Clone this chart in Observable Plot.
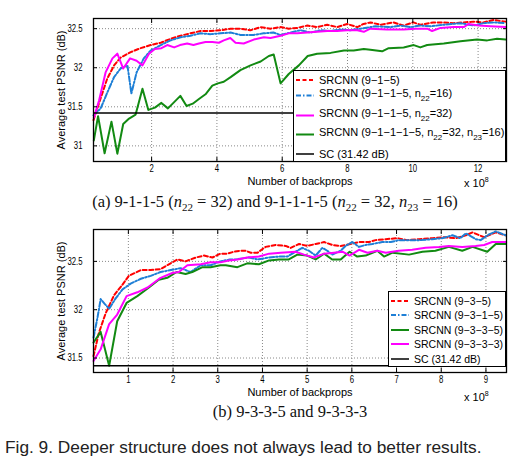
<!DOCTYPE html>
<html>
<head>
<meta charset="utf-8">
<script src="https://cdn.jsdelivr.net/npm/d3@7"></script>
<script src="https://cdn.jsdelivr.net/npm/@observablehq/plot@0.6"></script>
<style>
  body { margin: 0; background: #fff; font-family: "Liberation Sans", Arial, sans-serif; }
  #fig { position: relative; width: 518px; height: 460px; overflow: hidden; }
  .chart { position: absolute; left: 0; }
  .cap { position: absolute; font-family: "Liberation Serif", "Times New Roman", serif; font-size: 16.5px; white-space: nowrap; transform: translateX(-50%); color: #111; }
  .cap sub { font-size: 11px; }
  .exp { position: absolute; font-size: 11px; white-space: nowrap; }
  .exp sup { font-size: 7px; }
  .leg { position: absolute; background: #fff; border: 1.3px solid #000; font-size: 11px; box-sizing: border-box; }
  .row { position: absolute; left: 1px; display: flex; align-items: center; white-space: nowrap; transform: translateY(-50%); }
  .row svg { margin-right: 4px; }
  .row sub { font-size: 8px; }
  #figcap { position: absolute; left: 5px; top: 437px; font-size: 17.3px; color: #222; white-space: nowrap; }
</style>
</head>
<body>
<div id="fig">
  <div id="chartA" class="chart" style="top:0"></div>
  <div class="exp" style="left:464px;top:176px">x 10<sup>8</sup></div>
  <div class="cap" style="left:275px;top:192px">(a) 9-1-1-5 (<i>n</i><sub>22</sub> = 32) and 9-1-1-1-5 (<i>n</i><sub>22</sub> = 32, <i>n</i><sub>23</sub> = 16)</div>
  <div id="chartB" class="chart" style="top:211px"></div>
  <div class="exp" style="left:464px;top:390px">x 10<sup>8</sup></div>
  <div class="cap" style="left:290px;top:402px">(b) 9-3-3-5 and 9-3-3-3</div>
  <div id="figcap">Fig. 9. Deeper structure does not always lead to better results.</div>
</div>
<script>
// values, x in units of 10^8 backprops, y in dB
const scPSNR = 31.42

// (a) 9-1-1-5 and 9-1-1-1-5
const a_915 = [[0.22,31.33],[0.44,31.61],[0.64,31.86],[0.85,32.03],[1.05,32.13],[1.36,32.2],[1.66,32.25],[1.97,32.29],[2.28,32.32],[2.58,32.37],[2.89,32.41],[3.19,32.44],[3.5,32.47],[3.81,32.47],[4.11,32.48],[4.42,32.5],[4.72,32.5],[5.03,32.48],[5.34,32.52],[5.64,32.5],[5.95,32.52],[6.2,32.5],[6.46,32.51],[6.77,32.54],[7.07,32.52],[7.38,32.55],[7.68,32.52],[7.99,32.56],[8.3,32.52],[8.49,32.56],[8.7,32.58],[9.01,32.55],[9.41,32.58],[9.71,32.54],[10.02,32.58],[10.23,32.55],[10.63,32.58],[10.94,32.58],[11.24,32.57],[11.55,32.58],[11.86,32.59],[12.16,32.58],[12.47,32.61],[12.84,32.59]]
const a_9115_16 = [[0.22,31.39],[0.44,31.48],[0.64,31.68],[0.85,31.88],[1.05,31.99],[1.26,32.03],[1.38,31.67],[1.54,31.94],[1.76,32.12],[1.97,32.22],[2.28,32.29],[2.58,32.35],[2.89,32.39],[3.19,32.41],[3.5,32.44],[3.81,32.43],[4.11,32.44],[4.42,32.45],[4.72,32.42],[5.12,32.42],[5.43,32.44],[5.73,32.45],[5.95,32.42],[6.25,32.45],[6.56,32.48],[6.87,32.45],[7.17,32.48],[7.48,32.47],[7.79,32.49],[8.09,32.48],[8.4,32.5],[8.7,32.52],[8.86,32.53],[9.32,32.52],[9.62,32.54],[9.93,32.52],[10.23,32.54],[10.54,32.53],[10.94,32.55],[11.46,32.57],[11.86,32.54],[12.16,32.57],[12.47,32.58],[12.84,32.57]]
const a_9115_32 = [[0.23,31.36],[0.39,31.58],[0.59,31.94],[0.8,32.12],[0.95,32.18],[1.13,31.99],[1.34,32.12],[1.54,32.09],[1.72,32.03],[1.92,32.18],[2.1,32.24],[2.3,32.25],[2.48,32.29],[2.69,32.26],[2.87,32.29],[3.09,32.31],[3.28,32.29],[3.45,32.31],[3.65,32.33],[3.86,32.33],[4.06,32.32],[4.21,32.35],[4.41,32.38],[4.57,32.32],[4.82,32.31],[5.13,32.36],[5.44,32.39],[5.64,32.38],[5.95,32.41],[6.2,32.44],[6.46,32.44],[6.77,32.45],[7.07,32.46],[7.38,32.47],[7.68,32.47],[7.99,32.48],[8.3,32.48],[8.5,32.46],[8.7,32.5],[9.21,32.49],[9.72,32.49],[10.08,32.5],[10.44,32.5],[10.59,32.47],[10.85,32.51],[11.25,32.52],[11.56,32.52],[11.71,32.56],[12.02,32.54],[12.38,32.53],[12.84,32.52]]
const a_91115 = [[0.23,31.07],[0.36,31.38],[0.56,30.905],[0.77,31.31],[0.95,30.9],[1.13,31.28],[1.31,31.35],[1.51,31.4],[1.72,31.73],[1.9,31.46],[2.1,31.49],[2.3,31.55],[2.5,31.48],[2.88,31.64],[3.07,31.51],[3.26,31.54],[3.45,31.6],[3.65,31.66],[3.86,31.77],[4.03,31.8],[4.21,31.82],[4.42,31.88],[4.72,31.97],[5.03,32.03],[5.34,32.08],[5.59,32.15],[5.74,32.17],[5.95,31.8],[6.2,31.92],[6.51,32.03],[6.78,32.15],[7.07,32.18],[7.48,32.19],[7.89,32.22],[8.19,32.22],[8.5,32.24],[8.7,32.23],[9.06,32.21],[9.26,32.25],[9.72,32.26],[10.03,32.29],[10.23,32.26],[10.44,32.29],[10.95,32.31],[11.46,32.34],[11.97,32.36],[12.28,32.35],[12.58,32.37],[12.84,32.36]]
const aXTicks = [2, 4, 6, 8, 10, 12]
const aYTicks = [31, 31.5, 32, 32.5]

// (b) 9-3-3-5 and 9-3-3-3
const b_935 = [[0.22,31.52],[0.34,31.76],[0.49,31.96],[0.68,32.15],[0.87,32.26],[1.01,32.35],[1.28,32.41],[1.5,32.41],[1.72,32.42],[1.98,32.49],[2.1,32.52],[2.28,32.5],[2.51,32.54],[2.69,32.56],[2.88,32.54],[3.06,32.58],[3.22,32.58],[3.36,32.6],[3.51,32.61],[3.62,32.61],[3.74,32.59],[3.89,32.59],[4.07,32.65],[4.3,32.67],[4.52,32.66],[4.63,32.64],[4.82,32.68],[5,32.66],[5.19,32.68],[5.38,32.7],[5.56,32.67],[5.75,32.66],[5.97,32.68],[6.16,32.7],[6.38,32.7],[6.53,32.72],[6.76,32.73],[7.02,32.74],[7.24,32.72],[7.5,32.73],[7.8,32.74],[8.06,32.75],[8.32,32.74],[8.55,32.77],[8.7,32.8],[8.96,32.75],[9.22,32.8],[9.44,32.77]]
const b_9315 = [[0.22,31.71],[0.31,31.92],[0.38,32.11],[0.47,32.06],[0.57,32.01],[0.72,32.12],[0.87,32.21],[1.05,32.27],[1.28,32.32],[1.5,32.35],[1.72,32.39],[1.95,32.41],[2.17,32.43],[2.39,32.39],[2.62,32.46],[2.84,32.46],[3.06,32.5],[3.27,32.52],[3.4,32.52],[3.7,32.54],[3.89,32.52],[4.15,32.54],[4.37,32.55],[4.56,32.55],[4.74,32.6],[4.89,32.64],[5.04,32.61],[5.19,32.56],[5.34,32.64],[5.45,32.61],[5.56,32.57],[5.75,32.61],[5.86,32.66],[6.01,32.7],[6.16,32.65],[6.31,32.67],[6.46,32.68],[6.68,32.7],[6.87,32.7],[7.05,32.72],[7.28,32.72],[7.54,32.72],[7.8,32.73],[8.02,32.74],[8.25,32.77],[8.43,32.74],[8.55,32.79],[8.77,32.73],[8.88,32.72],[9.07,32.78],[9.22,32.81],[9.44,32.77]]
const b_9335 = [[0.22,31.66],[0.38,31.77],[0.57,31.42],[0.75,31.88],[0.96,32.07],[1.2,32.14],[1.46,32.23],[1.68,32.31],[1.87,32.33],[2.08,32.39],[2.28,32.37],[2.43,32.39],[2.66,32.44],[2.84,32.44],[3.06,32.46],[3.18,32.46],[3.44,32.44],[3.66,32.48],[3.92,32.47],[4.15,32.51],[4.37,32.52],[4.59,32.52],[4.78,32.57],[5,32.56],[5.19,32.52],[5.38,32.58],[5.56,32.52],[5.75,32.52],[5.95,32.6],[6.12,32.55],[6.31,32.56],[6.57,32.61],[6.72,32.55],[6.91,32.59],[7.28,32.57],[7.58,32.6],[7.87,32.61],[8.17,32.65],[8.47,32.61],[8.7,32.65],[9.03,32.6],[9.22,32.68],[9.44,32.68]]
const b_9333 = [[0.22,31.47],[0.38,31.59],[0.57,31.85],[0.75,31.95],[0.96,32.14],[1.2,32.18],[1.43,32.23],[1.72,32.33],[1.98,32.38],[2.13,32.39],[2.32,32.46],[2.62,32.47],[2.84,32.49],[3.06,32.49],[3.25,32.51],[3.44,32.52],[3.66,32.54],[3.92,32.55],[4.15,32.58],[4.41,32.59],[4.74,32.6],[4.93,32.57],[5.15,32.54],[5.38,32.58],[5.6,32.59],[5.79,32.6],[5.95,32.56],[6.16,32.62],[6.35,32.59],[6.57,32.61],[6.76,32.59],[7.05,32.61],[7.35,32.62],[7.65,32.64],[7.95,32.65],[8.17,32.66],[8.47,32.65],[8.77,32.66],[8.96,32.67],[9.14,32.7],[9.44,32.7]]
const bXTicks = [1, 2, 3, 4, 5, 6, 7, 8, 9]
const bYTicks = [31.5, 32, 32.5]

const red = {stroke: "#ff0000", strokeWidth: 2, strokeDasharray: "4,2.5"}
const blue = {stroke: "#1e7fd6", strokeWidth: 2, strokeDasharray: "5,2,1.5,2"}
const magenta = {stroke: "#ff00ff", strokeWidth: 2}
const green = {stroke: "#128a12", strokeWidth: 2}
const black = {stroke: "#000", strokeWidth: 1.5}

function panel(series, xDomain, yDomain, xTicks, yTicks) {
  const chart = Plot.plot({
    width: 518,
    height: 195,
    marginLeft: 93,
    marginRight: 12,
    marginTop: 18,
    marginBottom: 34,
    style: {fontSize: "11px", fontFamily: "Liberation Sans, Arial, sans-serif", color: "#000", background: "transparent", overflow: "visible"},
    x: {domain: xDomain},
    y: {domain: yDomain},
    marks: [
      Plot.gridX(xTicks, {stroke: "#888", strokeOpacity: 1, strokeDasharray: "1,2"}),
      Plot.gridY(yTicks, {stroke: "#888", strokeOpacity: 1, strokeDasharray: "1,2"}),
      ...series.map(([d, s]) => Plot.line(d, {x: "0", y: "1", ...s, strokeLinejoin: "round"})),
      Plot.ruleY([scPSNR], black),
      Plot.axisX(xTicks, {tickSize: -4, tickPadding: 7, fontSize: 10.5, tickFormat: d => String(d), label: null}),
      Plot.axisX({label: "Number of backprops", labelAnchor: "center", labelOffset: 23, labelArrow: "none", tickSize: 0, ticks: [], fontSize: 11}),
      Plot.axisX(xTicks, {anchor: "top", tickSize: -4, tickFormat: () => "", label: null}),
      Plot.axisY(yTicks, {tickSize: -4, tickPadding: 15, fontSize: 10.5, tickFormat: d => String(d), label: null}),
      Plot.axisY({label: "Average test PSNR (dB)", labelAnchor: "center", labelOffset: 36, labelArrow: "none", tickSize: 0, ticks: [], fontSize: 11}),
      Plot.axisY(yTicks, {anchor: "right", tickSize: -4, tickFormat: () => "", label: null}),
      Plot.frame({stroke: "#000", strokeWidth: 1.3})
    ]
  })
  // the tick numbers in the original are set in a narrow face: squeeze them about their anchor
  d3.select(chart).selectAll('g[aria-label$="tick label"] text').each(function () {
    const t = this.getAttribute("transform")
    if (t) this.setAttribute("transform", t + " scale(0.74,1)")
    else this.style.letterSpacing = "-0.8px"
  })
  return chart
}

function legend(parent, box, size, rows) {
  const el = document.createElement("div")
  el.className = "leg"
  Object.assign(el.style, {left: box[0] + "px", top: box[1] + "px", width: box[2] + "px", height: box[3] + "px", fontSize: size + "px"})
  rows.forEach(([label, s, cy]) => {
    const r = document.createElement("div")
    r.className = "row"
    r.style.top = cy + "px"
    const dash = s.strokeDasharray ? `stroke-dasharray="${s.strokeDasharray}"` : ""
    r.innerHTML = `<svg width="20" height="6"><line x1="1" x2="19" y1="3" y2="3" stroke="${s.stroke}" stroke-width="${s.strokeWidth}" ${dash}/></svg><span>${label}</span>`
    el.appendChild(r)
  })
  parent.appendChild(el)
}

const fig = document.getElementById("fig")

d3.select("#chartA").append(() => panel(
  [[a_915, red], [a_9115_16, blue], [a_9115_32, magenta], [a_91115, green]],
  [0.22, 12.87], [30.8, 32.63], aXTicks, aYTicks))

d3.select("#chartB").append(() => panel(
  [[b_935, red], [b_9315, blue], [b_9335, green], [b_9333, magenta]],
  [0.22, 9.46], [31.35, 32.83], bXTicks, bYTicks))

legend(fig, [293, 70, 213, 92], 11, [
  ["SRCNN (9−1−5)", red, 9],
  ["SRCNN (9−1−1−5, n<sub>22</sub>=16)", blue, 24],
  ["SRCNN (9−1−1−5, n<sub>22</sub>=32)", magenta, 44],
  ["SRCNN (9−1−1−1−5, n<sub>22</sub>=32, n<sub>23</sub>=16)", green, 63],
  ["SC (31.42 dB)", black, 83]
])

legend(fig, [388, 291, 118, 76], 10.5, [
  ["SRCNN (9−3−5)", red, 9],
  ["SRCNN (9−3−1−5)", blue, 23],
  ["SRCNN (9−3−3−5)", green, 38],
  ["SRCNN (9−3−3−3)", magenta, 52],
  ["SC (31.42 dB)", black, 67]
])
</script>
</body>
</html>
